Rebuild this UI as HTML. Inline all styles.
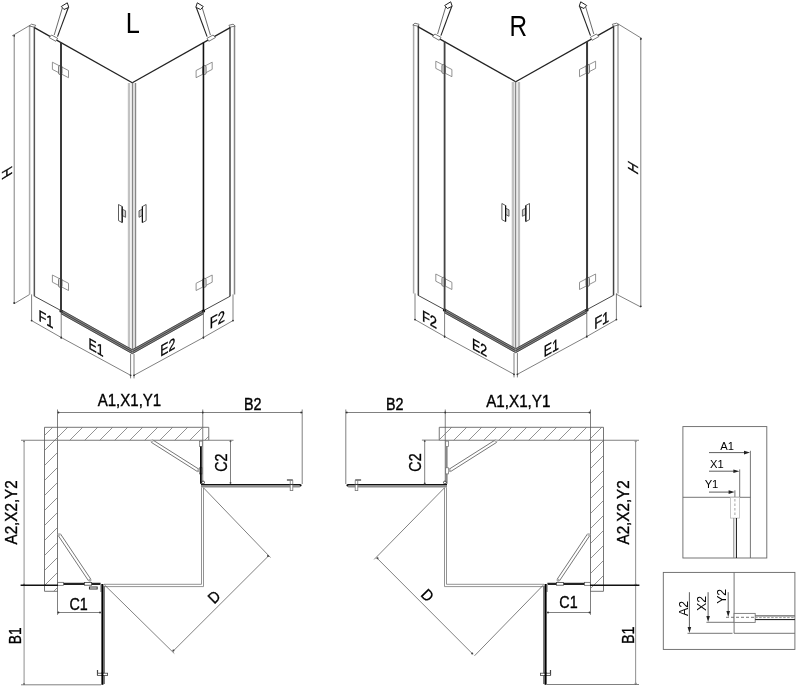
<!DOCTYPE html>
<html><head><meta charset="utf-8">
<style>
html,body{margin:0;padding:0;background:#fff;}
svg{display:block;will-change:transform;}
text{font-family:"Liberation Sans",sans-serif;fill:#000;stroke:#000;}
</style></head>
<body>
<svg width="800" height="688" viewBox="0 0 800 688">
<defs>
<clipPath id="cwL"><path d="M44.5,427.3 H208.75 V440.25 H57.5 V591.3 H44.5 Z"/></clipPath>
<clipPath id="cwR"><path d="M603.5,427.3 H439.25 V440.25 H590.5 V591.3 H603.5 Z"/></clipPath>
<g id="ih" fill="none">
  <!-- wall profile -->

  <path d="M29.4,26 L31.5,24.2 L35.7,25.3 L34.4,27.2 Z" fill="#fff" stroke="#555" stroke-width="0.8"/>
  <!-- glass top edge -->
  <line x1="34.4" y1="27.6" x2="132.3" y2="82.7" stroke="#222" stroke-width="1.3"/>
  <!-- glass bottom edge fixed -->
  <line x1="34.4" y1="296.2" x2="61" y2="310.6" stroke="#333" stroke-width="0.9"/>
  <!-- support arm -->
  <path d="M54.2,35 L62.3,8" stroke="#444" stroke-width="0.8"/>
  <path d="M57.5,36.6 L68.4,7.2" stroke="#222" stroke-width="1.1"/>
  <path d="M61.3,6.5 L67.3,2.8 L68.8,7.3 L64,9.5 Z" fill="#fff" stroke="#222" stroke-width="1"/>
  <path d="M49.2,37.6 L51.5,35 L57.6,38.3 L55.8,41.3 Z" fill="#fff" stroke="#555" stroke-width="0.8"/>
  <!-- hinges -->
  <g stroke="#777" stroke-width="0.8" fill="#fff">
    <path d="M52.4,62.2 L68.5,70.5 L68.5,77.7 L52.4,69.4 Z"/>
    <path d="M52.4,275 L68.5,283.3 L68.5,290.5 L52.4,282.2 Z"/>
  </g>
  <g stroke="#666" stroke-width="0.8" fill="#ddd">
    <rect x="58.5" y="65.5" width="3.5" height="9" rx="1.5"/>
    <rect x="58.5" y="278.3" width="3.5" height="9" rx="1.5"/>
  </g>
  <!-- door hinge line -->

  <!-- handle -->
  <path d="M118.5,204.5 L122.2,206.5 L122.2,222.6 L118.5,220.6 Z" fill="#fff" stroke="#333" stroke-width="0.8"/>
  <path d="M122.2,209.2 L125.6,210.8 L125.6,217.3 L122.2,215.5 Z" fill="#ccc" stroke="#444" stroke-width="0.8"/>
  <line x1="122.2" y1="206.5" x2="122.2" y2="222.6" stroke="#111" stroke-width="1.2"/>
  <!-- center post -->

  <!-- tray -->
  <path d="M61,309.4 L132.3,349.4 L132.3,354 L61,314 Z" fill="#8a8a8a"/>
  <g stroke="#222" stroke-width="0.7">
    <line x1="61" y1="309.7" x2="132.3" y2="349.7"/>
    <line x1="61" y1="311.7" x2="132.3" y2="351.7"/>
    <line x1="61" y1="313.7" x2="132.3" y2="353.7"/>
  </g>
  <circle cx="61" cy="311" r="1.6" fill="#111"/>
  <!-- dims -->
  <g stroke="#555" stroke-width="0.75">
    <line x1="31.6" y1="294.4" x2="31.6" y2="320.8"/>
    <line x1="31.6" y1="320.6" x2="61.2" y2="337.5"/>
    <line x1="61.2" y1="311" x2="61.2" y2="339"/>
    <line x1="61.2" y1="337.5" x2="130.6" y2="375.3"/>
    <line x1="130.6" y1="354" x2="130.6" y2="378.4"/>
  </g>
  <g fill="#333"><circle cx="31.6" cy="320.6" r="0.9"/><circle cx="61.2" cy="337.5" r="0.9"/><circle cx="130.6" cy="375.3" r="0.9"/></g>
</g>

<g id="plan" fill="none">
  <path d="M44.5,427.3 H208.75 V440.25 H57.5 V591.3 H44.5 Z" stroke="#666" stroke-width="0.9"/>
  <g stroke="#555" stroke-width="0.75">
    <line x1="57.5" y1="412.5" x2="302.5" y2="412.5"/>
    <line x1="57.5" y1="409.5" x2="57.5" y2="440"/>
    <line x1="202.75" y1="409.5" x2="202.75" y2="483"/>
    <line x1="302.2" y1="409.5" x2="302.2" y2="484"/>
    <line x1="57.5" y1="591" x2="57.5" y2="614.8"/>
    <line x1="57.5" y1="612.5" x2="101" y2="612.5"/>
  </g>
  <g fill="#333"><circle cx="58.5" cy="412.5" r="0.9"/><circle cx="202.75" cy="412.5" r="0.9"/><circle cx="301.2" cy="412.5" r="0.9"/><circle cx="58.5" cy="612.5" r="0.9"/><circle cx="100" cy="612.5" r="0.9"/></g>
  <!-- tray outline -->
  <g stroke="#777" stroke-width="0.8">
    <path d="M201.5,487.5 V584.3 H104"/>
    <path d="M203.5,487.5 V586.6 H105"/>
  </g>
  <!-- fixed panel top -->
  <rect x="199.5" y="441.1" width="2.8" height="5.4" fill="#fff" stroke="#666" stroke-width="0.7"/>
  <rect x="199.5" y="467.8" width="2.8" height="6.1" fill="#fff" stroke="#666" stroke-width="0.7"/>
  <path d="M151.05,442.18 L197.75,471.78 M152.55,439.82 L199.25,469.42" stroke="#666" stroke-width="0.9"/><circle cx="152" cy="441" r="1.5" fill="#bbb"/><circle cx="198.5" cy="470.6" r="1.5" fill="#aaa"/>
  <!-- door B2 -->
  <path d="M201,485 H299 Q301.5,485 301.5,486 L299.5,487.5 H201 Z" fill="#8c8c8c" stroke="none"/>
  <line x1="201" y1="484.5" x2="300.5" y2="484.5" stroke="#111" stroke-width="1.2"/>
  <circle cx="300.6" cy="485.2" r="1" fill="#111"/>
  <path d="M286.9,480 H292.8" stroke="#555" stroke-width="1.4"/>
  <rect x="290.2" y="480.6" width="2.6" height="10" fill="#fff" stroke="#777" stroke-width="0.8"/>
  <line x1="290" y1="484.5" x2="293" y2="484.5" stroke="#333" stroke-width="1.1"/>
  <circle cx="203.1" cy="482.5" r="1.4" fill="#fff" stroke="#222" stroke-width="0.8"/>
  <!-- fixed panel bottom -->
  <line x1="57.7" y1="583.9" x2="100.6" y2="583.9" stroke="#222" stroke-width="2.2"/>
  <rect x="57.7" y="582.3" width="5.8" height="3" fill="#fff" stroke="#555" stroke-width="0.7"/>
  <rect x="84.5" y="582.4" width="7.1" height="2.8" fill="#fff" stroke="#444" stroke-width="0.8"/>
  <path d="M58.04,535.28 L88.64,580.98 M60.36,533.72 L90.96,579.42" stroke="#666" stroke-width="0.9"/><circle cx="59.2" cy="534.5" r="1.5" fill="#bbb"/><circle cx="89.8" cy="580.2" r="1.5" fill="#aaa"/>
  <!-- door B1 -->
  <rect x="103.4" y="586" width="1.6" height="98" fill="#7a7a7a"/>
  <rect x="100.2" y="584" width="1.4" height="8" fill="#999"/>
  <line x1="102.4" y1="584" x2="102.4" y2="684.8" stroke="#000" stroke-width="2"/>
  <path d="M97.5,670 V675.4" stroke="#444" stroke-width="1.2"/>
  <rect x="97.6" y="673.2" width="10" height="2.2" fill="#fff" stroke="#444" stroke-width="0.8"/>
  <line x1="102.4" y1="672.5" x2="102.4" y2="676" stroke="#000" stroke-width="2"/>
</g>
</defs>

<!-- ISO -->

<g fill="none">
<line x1="29.6" y1="26" x2="29.6" y2="294.5" stroke="#aaa" stroke-width="1.5"/>
<line x1="34.35" y1="27" x2="34.35" y2="296.3" stroke="#555" stroke-width="1.5"/>
<line x1="230" y1="27" x2="230" y2="296.3" stroke="#666" stroke-width="1.8"/>
<line x1="234.5" y1="26" x2="234.5" y2="294.5" stroke="#888" stroke-width="1.5"/>
<line x1="413.6" y1="24" x2="413.6" y2="293.5" stroke="#aaa" stroke-width="1.5"/>
<line x1="418.35" y1="25" x2="418.35" y2="295.3" stroke="#444" stroke-width="1.5"/>
<line x1="613.55" y1="25" x2="613.55" y2="295.3" stroke="#444" stroke-width="1.5"/>
<line x1="618" y1="24" x2="618" y2="293.5" stroke="#bbb" stroke-width="2"/>
</g>
<rect x="127.8" y="83" width="2.4" height="266.5" fill="#c2c2c2"/>
<line x1="132.55" y1="83" x2="132.55" y2="350" stroke="#888" stroke-width="1.5"/>
<line x1="135.45" y1="83" x2="135.45" y2="349.5" stroke="#888" stroke-width="1.5"/>
<rect x="511.7" y="82" width="2.4" height="265.5" fill="#c2c2c2"/>
<line x1="515.55" y1="82" x2="515.55" y2="348" stroke="#888" stroke-width="1.5"/>
<rect x="517.7" y="82" width="2.4" height="265.5" fill="#bdbdbd"/>
<use href="#ih"/>
<use href="#ih" transform="translate(264.6,0) scale(-1,1)"/>
<use href="#ih" transform="translate(648,-1) scale(-1,1)"/>
<use href="#ih" transform="translate(383.4,-1)"/>
<g fill="none">
<line x1="61" y1="42.5" x2="61" y2="311" stroke="#3a3a3a" stroke-width="2"/>
<line x1="203.45" y1="42.5" x2="203.45" y2="311" stroke="#111" stroke-width="1.6"/>
<line x1="444.6" y1="41.5" x2="444.6" y2="310" stroke="#444" stroke-width="1.8"/>
<line x1="587.05" y1="41.5" x2="587.05" y2="310" stroke="#3a3a3a" stroke-width="2"/>
</g>
<g stroke="#555" stroke-width="0.75" fill="none">
  <line x1="14.2" y1="35" x2="14.2" y2="303.7"/>
  <line x1="12.2" y1="35.8" x2="30" y2="25.3"/>
  <line x1="14.2" y1="303.7" x2="29.4" y2="294.6"/>
  <line x1="640.8" y1="38.2" x2="640.8" y2="307"/>
  <line x1="617.4" y1="23.5" x2="642" y2="38.6"/>
  <line x1="616" y1="294" x2="640.8" y2="307"/>
</g>
<g fill="#333">
<circle cx="14.2" cy="35.8" r="0.9"/><circle cx="14.2" cy="303" r="0.9"/><circle cx="640.8" cy="39" r="0.9"/><circle cx="640.8" cy="306.3" r="0.9"/>
<circle cx="24.1" cy="441.3" r="0.9"/><circle cx="24.1" cy="584.3" r="0.9"/><circle cx="24.1" cy="683.8" r="0.9"/>
<circle cx="230.5" cy="441.3" r="0.9"/><circle cx="230.5" cy="482.8" r="0.9"/><circle cx="268" cy="555.9" r="1"/><circle cx="173.4" cy="650.6" r="1"/>
<circle cx="635.6" cy="441.3" r="0.9"/><circle cx="635.6" cy="584.3" r="0.9"/><circle cx="635.6" cy="683.5" r="0.9"/>
<circle cx="424.7" cy="441.1" r="0.9"/><circle cx="424.7" cy="483.5" r="0.9"/><circle cx="377.5" cy="558.2" r="1"/><circle cx="472.2" cy="653.5" r="1"/>
</g>
<!-- PLAN -->
<use href="#plan"/>
<line x1="200.9" y1="446.5" x2="200.9" y2="483.8" stroke="#000" stroke-width="1.7"/>
<line x1="446.6" y1="446.5" x2="446.6" y2="483.8" stroke="#888" stroke-width="2"/>
<use href="#plan" transform="translate(648,0) scale(-1,1)"/>
<rect x="89.4" y="587" width="7.8" height="2" fill="#fff" stroke="#222" stroke-width="0.9"/>
<g clip-path="url(#cwL)"><path d="M-235,700 L165,300 M-220,700 L180,300 M-205,700 L195,300 M-190,700 L210,300 M-175,700 L225,300 M-160,700 L240,300 M-145,700 L255,300 M-130,700 L270,300 M-115,700 L285,300 M-100,700 L300,300 M-85,700 L315,300 M-70,700 L330,300 M-55,700 L345,300 M-40,700 L360,300" stroke="#777" stroke-width="0.8" fill="none"/></g>
<g clip-path="url(#cwR)"><path d="M164,700 L564,300 M179,700 L579,300 M194,700 L594,300 M209,700 L609,300 M224,700 L624,300 M239,700 L639,300 M254,700 L654,300 M269,700 L669,300 M284,700 L684,300 M299,700 L699,300 M314,700 L714,300 M329,700 L729,300 M344,700 L744,300 M359,700 L759,300 M374,700 L774,300 M389,700 L789,300 M404,700 L804,300 M419,700 L819,300 M434,700 L834,300 M449,700 L849,300 M464,700 L864,300 M479,700 L879,300 M494,700 L894,300 M509,700 L909,300" stroke="#777" stroke-width="0.8" fill="none"/></g>
<g stroke="#555" stroke-width="0.75" fill="none">
  <line x1="21" y1="440.25" x2="57.5" y2="440.25"/>
  <line x1="24.1" y1="440" x2="24.1" y2="684.8" stroke="#999" stroke-width="1.1"/>
  <line x1="20.6" y1="585.3" x2="58" y2="585.3" stroke="#111" stroke-width="1.4"/>
  <line x1="21" y1="684.8" x2="101" y2="684.8"/>
  <line x1="208.75" y1="440.25" x2="233.5" y2="440.25"/>
  <line x1="230.5" y1="440.25" x2="230.5" y2="483.8"/>
  <line x1="203.7" y1="488" x2="270.5" y2="557.5"/>
  <line x1="268.75" y1="555.7" x2="172.9" y2="651.35"/>
  <line x1="104.4" y1="584.8" x2="174.3" y2="653.5"/>
  <!-- R -->
  <line x1="590.5" y1="440.25" x2="639" y2="440.25"/>
  <line x1="635.6" y1="440" x2="635.6" y2="684" stroke="#999" stroke-width="1.1"/>
  <line x1="590" y1="585.3" x2="639.4" y2="585.3" stroke="#111" stroke-width="1.4"/>
  <line x1="547" y1="684.5" x2="639" y2="684.5"/>
  <line x1="439.25" y1="440.1" x2="421.9" y2="440.1"/>
  <line x1="424.7" y1="440.1" x2="424.7" y2="484.5"/>
  <line x1="444.3" y1="488" x2="374.2" y2="559.4"/>
  <line x1="376.8" y1="557.9" x2="472.9" y2="654.2"/>
  <line x1="543.6" y1="584.8" x2="474.5" y2="655.8"/>
</g>

<!-- detail box 1 -->
<g fill="none" stroke="#666" stroke-width="0.9">
  <rect x="682.9" y="426.6" width="83.9" height="131.4"/>
  <line x1="682.9" y1="497.3" x2="750.5" y2="497.3"/>
  <line x1="750.4" y1="450.8" x2="750.4" y2="558"/>
  <line x1="739.7" y1="469.4" x2="739.7" y2="497.3"/>
  <line x1="734.9" y1="490.3" x2="734.9" y2="497.3"/>
</g>
<g stroke="#333" stroke-width="0.8">
  <line x1="709" y1="452.6" x2="746" y2="452.6"/>
  <line x1="709" y1="471.2" x2="735.5" y2="471.2"/>
  <line x1="709" y1="492.1" x2="730.5" y2="492.1"/>
</g>
<g fill="#222">
  <path d="M750,452.6 L744,450.8 L744,454.4 Z"/>
  <path d="M739.4,471.2 L733.4,469.4 L733.4,473 Z"/>
  <path d="M734.6,492.1 L728.6,490.3 L728.6,493.9 Z"/>
</g>
<rect x="730.6" y="497.3" width="9" height="20.8" fill="#fff" stroke="#bbb" stroke-width="0.8"/>
<line x1="734.9" y1="499" x2="734.9" y2="517" stroke="#999" stroke-width="0.9" stroke-dasharray="2.5,2"/>
<line x1="733.8" y1="518" x2="733.8" y2="558" stroke="#888" stroke-width="1"/>
<line x1="736.4" y1="518" x2="736.4" y2="558" stroke="#111" stroke-width="1"/>
<!-- detail box 2 -->
<g fill="none" stroke="#666" stroke-width="0.9">
  <rect x="663.3" y="572.4" width="131.6" height="77"/>
  <line x1="734.1" y1="572.4" x2="734.1" y2="633.3"/>
  <line x1="687.5" y1="633.3" x2="732.5" y2="633.3"/>
  <line x1="734.1" y1="633.3" x2="794.9" y2="633.3"/>
  <line x1="706.4" y1="622.3" x2="734.1" y2="622.3"/>
</g>
<g stroke="#333" stroke-width="0.8">
  <line x1="689.4" y1="592.2" x2="689.4" y2="628"/>
  <line x1="708.1" y1="592.2" x2="708.1" y2="617"/>
  <line x1="728.2" y1="592.2" x2="728.2" y2="612"/>
</g>
<g fill="#222">
  <path d="M689.4,633 L687.6,627 L691.2,627 Z"/>
  <path d="M708.1,622 L706.3,616 L709.9,616 Z"/>
  <path d="M728.2,617 L726.4,611 L730,611 Z"/>
</g>
<rect x="734.1" y="613.4" width="21.1" height="9" fill="#fff" stroke="#777" stroke-width="0.9"/>
<line x1="726" y1="617.3" x2="755" y2="617.3" stroke="#666" stroke-width="0.9" stroke-dasharray="3,2"/>
<line x1="755.2" y1="615.9" x2="794.9" y2="615.9" stroke="#666" stroke-width="1.4"/>
<line x1="755.2" y1="617.6" x2="794.9" y2="617.6" stroke="#999" stroke-width="1" stroke-dasharray="2.5,1.5"/>
<line x1="755.2" y1="619.6" x2="794.9" y2="619.6" stroke="#111" stroke-width="1"/>

<text id="L" transform="translate(132.90,22.75)  scale(0.88,1)" font-size="28.8" stroke-width="0" text-anchor="middle" dominant-baseline="central">L</text>
<text id="R" transform="translate(518.20,26.05)  scale(0.845,1)" font-size="28.8" stroke-width="0" text-anchor="middle" dominant-baseline="central">R</text>
<text id="iF1L" transform="translate(46.00,318.95) skewY(29) scale(0.82,1)" font-size="15.8" stroke-width="0.35" text-anchor="middle" dominant-baseline="central">F1</text>
<text id="iE1L" transform="translate(96.00,346.95) skewY(29) scale(0.78,1)" font-size="15.8" stroke-width="0.35" text-anchor="middle" dominant-baseline="central">E1</text>
<text id="iE2L" transform="translate(167.90,346.70) skewY(-29) scale(0.78,1)" font-size="15.8" stroke-width="0.35" text-anchor="middle" dominant-baseline="central">E2</text>
<text id="iF2L" transform="translate(217.40,319.20) skewY(-29) scale(0.82,1)" font-size="15.8" stroke-width="0.35" text-anchor="middle" dominant-baseline="central">F2</text>
<text id="iF2R" transform="translate(429.50,319.15) skewY(29) scale(0.82,1)" font-size="15.8" stroke-width="0.35" text-anchor="middle" dominant-baseline="central">F2</text>
<text id="iE2R" transform="translate(479.50,347.10) skewY(29) scale(0.78,1)" font-size="15.8" stroke-width="0.35" text-anchor="middle" dominant-baseline="central">E2</text>
<text id="iE1R" transform="translate(551.40,347.25) skewY(-29) scale(0.78,1)" font-size="15.8" stroke-width="0.35" text-anchor="middle" dominant-baseline="central">E1</text>
<text id="iF1R" transform="translate(601.75,319.75) skewY(-29) scale(0.82,1)" font-size="15.8" stroke-width="0.35" text-anchor="middle" dominant-baseline="central">F1</text>
<text id="HL" transform="translate(6.50,172.85) skewY(-31) rotate(-90) scale(0.9,1)" font-size="14.5" stroke-width="0.35" text-anchor="middle" dominant-baseline="central">H</text>
<text id="HR" transform="translate(632.60,167.30) skewY(31) rotate(-90) scale(0.9,1)" font-size="14.5" stroke-width="0.35" text-anchor="middle" dominant-baseline="central">H</text>
<text id="pA1L" transform="translate(129.45,400.50)  scale(0.965,1)" font-size="15.6" stroke-width="0.35" text-anchor="middle" dominant-baseline="central">A1,X1,Y1</text>
<text id="pB2L" transform="translate(252.65,404.10)  scale(0.92,1)" font-size="15.6" stroke-width="0.35" text-anchor="middle" dominant-baseline="central">B2</text>
<text id="pA2L" transform="translate(11.80,512.40) rotate(-90) scale(0.975,1)" font-size="15.6" stroke-width="0.35" text-anchor="middle" dominant-baseline="central">A2,X2,Y2</text>
<text id="pC2L" transform="translate(221.75,462.70) rotate(-90) scale(0.92,1)" font-size="15.6" stroke-width="0.35" text-anchor="middle" dominant-baseline="central">C2</text>
<text id="pC1L" transform="translate(78.62,603.88)  scale(0.92,1)" font-size="15.6" stroke-width="0.35" text-anchor="middle" dominant-baseline="central">C1</text>
<text id="pB1L" transform="translate(15.70,635.80) rotate(-90) scale(0.88,1)" font-size="15.6" stroke-width="0.35" text-anchor="middle" dominant-baseline="central">B1</text>
<text id="pDL" transform="translate(213.90,596.90) rotate(-45) scale(0.92,1)" font-size="15.6" stroke-width="0.35" text-anchor="middle" dominant-baseline="central">D</text>
<text id="pB2R" transform="translate(394.80,404.05)  scale(0.92,1)" font-size="15.6" stroke-width="0.35" text-anchor="middle" dominant-baseline="central">B2</text>
<text id="pA1R" transform="translate(518.30,401.50)  scale(0.975,1)" font-size="15.6" stroke-width="0.35" text-anchor="middle" dominant-baseline="central">A1,X1,Y1</text>
<text id="pC2R" transform="translate(415.15,462.50) rotate(-90) scale(0.92,1)" font-size="15.6" stroke-width="0.35" text-anchor="middle" dominant-baseline="central">C2</text>
<text id="pA2R" transform="translate(623.20,512.40) rotate(-90) scale(0.975,1)" font-size="15.6" stroke-width="0.35" text-anchor="middle" dominant-baseline="central">A2,X2,Y2</text>
<text id="pDR" transform="translate(427.70,595.10) rotate(45) scale(0.92,1)" font-size="15.6" stroke-width="0.35" text-anchor="middle" dominant-baseline="central">D</text>
<text id="pC1R" transform="translate(568.50,602.50)  scale(0.92,1)" font-size="15.6" stroke-width="0.35" text-anchor="middle" dominant-baseline="central">C1</text>
<text id="pB1R" transform="translate(627.95,635.30) rotate(-90) scale(0.92,1)" font-size="15.6" stroke-width="0.35" text-anchor="middle" dominant-baseline="central">B1</text>
<text id="dA1" transform="translate(727.10,446.25)  scale(1.0,1)" font-size="11.2" stroke-width="0" text-anchor="middle" dominant-baseline="central">A1</text>
<text id="dX1" transform="translate(716.95,463.90)  scale(1.0,1)" font-size="11.2" stroke-width="0" text-anchor="middle" dominant-baseline="central">X1</text>
<text id="dY1" transform="translate(711.50,484.35)  scale(1.0,1)" font-size="11.2" stroke-width="0" text-anchor="middle" dominant-baseline="central">Y1</text>
<text id="dA2" transform="translate(683.80,608.50) rotate(-90) scale(1.0,1)" font-size="12.3" stroke-width="0" text-anchor="middle" dominant-baseline="central">A2</text>
<text id="dX2" transform="translate(701.60,603.55) rotate(-90) scale(1.0,1)" font-size="12.3" stroke-width="0" text-anchor="middle" dominant-baseline="central">X2</text>
<text id="dY2" transform="translate(721.90,596.35) rotate(-90) scale(1.0,1)" font-size="12.3" stroke-width="0" text-anchor="middle" dominant-baseline="central">Y2</text>
</svg>
</body></html>
